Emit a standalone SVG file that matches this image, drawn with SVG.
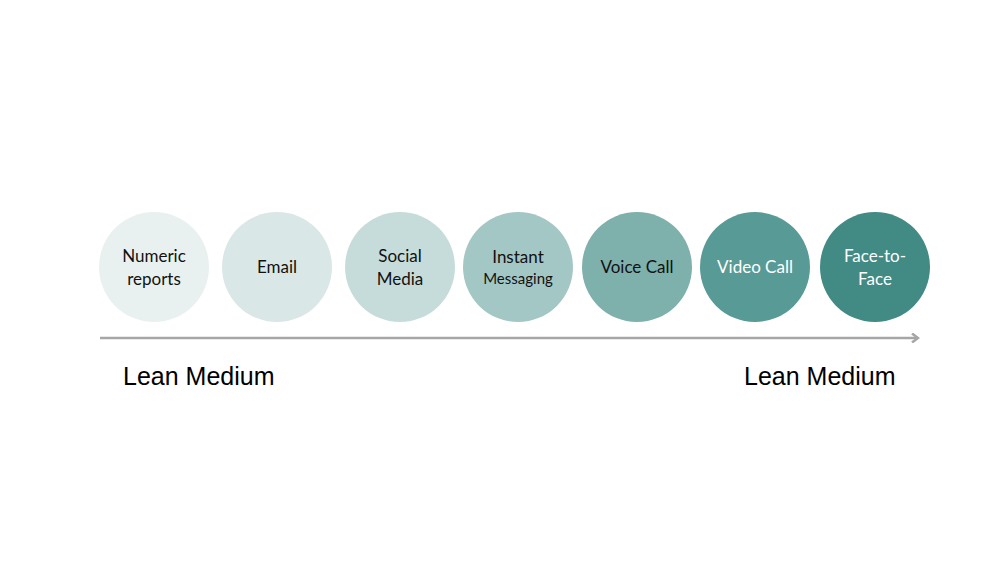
<svg xmlns="http://www.w3.org/2000/svg" width="1000" height="563" viewBox="0 0 1000 563">
<style>
.lbl{font-family:Lato,"Open Sans","Liberation Sans",sans-serif;font-size:17px;text-anchor:middle;fill:#111}
.lbls{font-family:Lato,"Open Sans","Liberation Sans",sans-serif;font-size:15px;text-anchor:middle;fill:#111}
.wt{fill:#ffffff}
.end{font-family:"Liberation Sans",Arial,sans-serif;font-size:25px;fill:#000}
</style>
<defs>
<marker id="arr" markerWidth="10" markerHeight="10" refX="8" refY="5" orient="auto" markerUnits="userSpaceOnUse">
<path d="M2,0.5 L8,5 L2,9.5" fill="none" stroke="#a6a6a6" stroke-width="2.5"/>
</marker>
</defs>
<rect width="1000" height="563" fill="#ffffff"/>
<g id="connectors">
<line x1="100" y1="338" x2="918" y2="338" stroke="#a6a6a6" stroke-width="2.5" marker-end="url(#arr)"/>
</g>
<g id="n1"><circle cx="154" cy="267" r="55" fill="#e9f1f0"/><text class="lbl" x="154" y="262">Numeric</text><text class="lbl" x="154" y="285">reports</text></g>
<g id="n2"><circle cx="277" cy="267" r="55" fill="#d9e7e6"/><text class="lbl" x="277" y="273">Email</text></g>
<g id="n3"><circle cx="400" cy="267" r="55" fill="#c6dcda"/><text class="lbl" x="400" y="262">Social</text><text class="lbl" x="400" y="285">Media</text></g>
<g id="n4"><circle cx="518" cy="267" r="55" fill="#a3c7c4"/><text class="lbl" x="518" y="263">Instant</text><text class="lbls" x="518" y="284">Messaging</text></g>
<g id="n5"><circle cx="637" cy="267" r="55" fill="#7eb0ac"/><text class="lbl" x="637" y="273">Voice Call</text></g>
<g id="n6"><circle cx="755" cy="267" r="55" fill="#589a95"/><text class="lbl wt" x="755" y="273">Video Call</text></g>
<g id="n7"><circle cx="875" cy="267" r="55" fill="#428a84"/><text class="lbl wt" x="875" y="262">Face-to-</text><text class="lbl wt" x="875" y="285">Face</text></g>
<text class="end" x="123" y="385">Lean Medium</text>
<text class="end" x="744" y="385">Lean Medium</text>
</svg>
